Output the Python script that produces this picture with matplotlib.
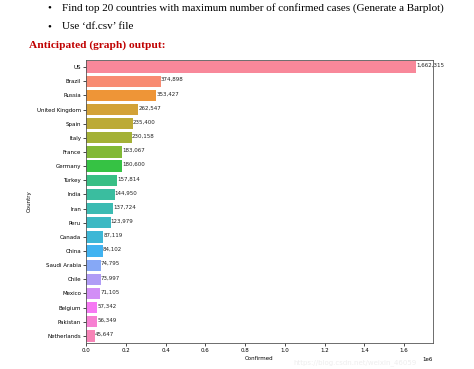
import matplotlib
matplotlib.use("Agg")
import matplotlib.pyplot as plt
import seaborn as sns

countries = ["US", "Brazil", "Russia", "United Kingdom", "Spain", "Italy", "France",
             "Germany", "Turkey", "India", "Iran", "Peru", "Canada", "China",
             "Saudi Arabia", "Chile", "Mexico", "Belgium", "Pakistan", "Netherlands"]
confirmed = [1662315, 374898, 353427, 262547, 235400, 230158, 183067,
             180600, 157814, 144950, 137724, 123979, 87119, 84102,
             74795, 73997, 71105, 57342, 56349, 45647]

# husl palette, one colour per country
colors = sns.husl_palette(len(countries), l=.7)

fig = plt.figure(figsize=(4.74, 3.69), dpi=100)

# document text above the chart
fig.text(0.101, 0.978, "\u2022", fontsize=8, family="Liberation Serif", va="center")
fig.text(0.131, 0.978, "Find top 20 countries with maximum number of confirmed cases (Generate a Barplot)",
         fontsize=8.0, family="Liberation Serif", va="center")
fig.text(0.101, 0.928, "\u2022", fontsize=8, family="Liberation Serif", va="center")
fig.text(0.131, 0.928, "Use \u2018df.csv\u2019 file", fontsize=8.0, family="Liberation Serif", va="center")
fig.text(0.061, 0.878, "Anticipated (graph) output:", fontsize=8.2, family="Liberation Serif",
         fontweight="bold", color="#c00000", va="center")

ax = fig.add_axes([0.1814, 0.0705, 0.7321, 0.7669])
ypos = list(range(len(countries)))
ax.barh(ypos, confirmed, height=0.8, color=colors)
ax.set_ylim(len(countries) - 0.5, -0.5)
ax.set_yticks(ypos)
ax.set_yticklabels(countries)
ax.tick_params(labelsize=4, length=2, width=0.5, pad=1.5)
for s in ax.spines.values():
    s.set_linewidth(0.6)
    s.set_color("#555555")

for y, v in zip(ypos, confirmed):
    ax.text(v, y, f"{v:,}", fontsize=4, color="#222222")

ax.set_xlabel("Confirmed", fontsize=4, labelpad=2)
ax.set_ylabel("Country", fontsize=4, labelpad=4)
ax.xaxis.get_offset_text().set_fontsize(4)

fig.text(0.88, 0.012, "https://blog.csdn.net/weixin_46059", fontsize=5, color="#eeeeee", ha="right")

fig.savefig("out.png", dpi=100)
